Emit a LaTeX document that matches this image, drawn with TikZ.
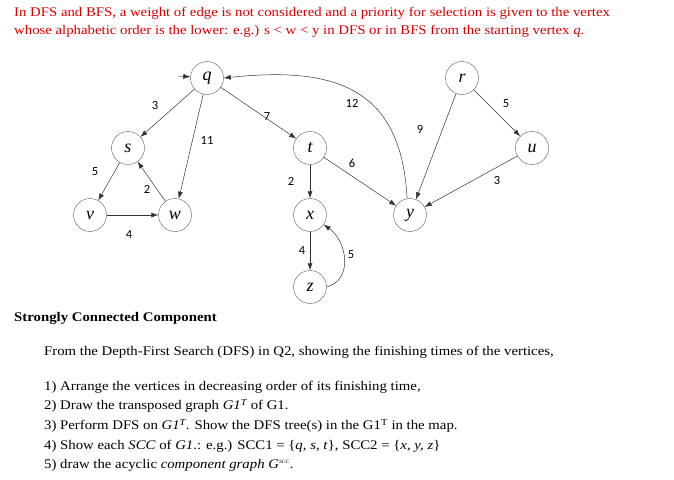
\documentclass[tikz,border=0pt]{standalone}
\usepackage{fontspec}
\setmainfont[FakeStretch=1.12]{Liberation Serif}
\newfontfamily\lblfont{Carlito}
\newfontfamily\vfont{Liberation Serif}
\usetikzlibrary{arrows.meta}
\tikzset{
 vtx/.style={circle,draw,gray!70!black,text=black,minimum size=33pt,inner sep=0pt,font=\vfont\fontsize{18}{18}\selectfont\itshape},
 edge/.style={draw,gray!40!black,-{Latex[length=7pt,width=5pt]},line width=0.5pt},
 wl/.style={font=\lblfont\fontsize{12.5}{12.5}\selectfont},
 txt/.style={anchor=west,inner sep=0pt,font=\fontsize{13.2}{15}\selectfont}
}
\begin{document}
\begin{tikzpicture}[x=1pt,y=-1pt]
\useasboundingbox (0,0) rectangle (674,479);
\node[vtx] (q) at (207,78) {q};
\node[vtx] (s) at (128,148) {s};
\node[vtx] (t) at (310,148) {t};
\node[vtx] (v) at (90,215) {v};
\node[vtx] (w) at (175,215) {w};
\node[vtx] (x) at (310,215) {x};
\node[vtx] (z) at (310,287) {z};
\node[vtx] (y) at (410,215) {y};
\node[vtx] (r) at (462,78) {r};
\node[vtx] (u) at (532,148) {u};
\coordinate (st) at (178,76);
\draw[edge] (st) -- (q);
\draw[edge] (q) -- (s);
\draw[edge] (q) -- (w);
\draw[edge] (q) -- (t);
\draw[edge] (s) -- (v);
\draw[edge] (w) -- (s);
\draw[edge] (v) -- (w);
\draw[edge] (t) -- (x);
\draw[edge] (x) -- (z);
\draw[edge] (t) -- (y);
\draw[edge] (r) -- (y);
\draw[edge] (r) -- (u);
\draw[edge] (u) -- (y);
\draw[edge] (y.100) to[out=93,in=6,looseness=1.3] (q.east);
\draw[edge] (z.east) to[out=15,in=-35,looseness=1.15] (x.-35);
\node[wl] at (352,103) {12};
\node[wl] at (155,105) {3};
\node[wl] at (207,140) {11};
\node[wl] at (267,116) {7};
\node[wl] at (420,129) {9};
\node[wl] at (506,104) {5};
\node[wl] at (95,172) {5};
\node[wl] at (147,189) {2};
\node[wl] at (129,234) {4};
\node[wl] at (291,181) {2};
\node[wl] at (352,163) {6};
\node[wl] at (497,180) {3};
\node[wl] at (302,250) {4};
\node[wl] at (351,255) {5};
\node[txt,red!85!black] (h1) at (14,13) {In DFS and BFS, a weight of edge is not considered and a priority for selection is given to the vertex};
\node[txt,red!85!black] (h2) at (14,31) {whose alphabetic order is the lower: e.g.) s < w < y in DFS or in BFS from the starting vertex \textit{q}.};
\node[txt,font=\fontsize{13.2}{15}\selectfont\bfseries] (scc) at (14,318) {Strongly Connected Component};
\node[txt] (p) at (44,352) {From the Depth-First Search (DFS) in Q2, showing the finishing times of the vertices,};
\node[txt] (l1) at (44,387) {1) Arrange the vertices in decreasing order of its finishing time,};
\node[txt] (l2) at (44,406) {2) Draw the transposed graph \textit{G1\textsuperscript{T}} of G1.};
\node[txt] (l3) at (44,426) {3) Perform DFS on \textit{G1\textsuperscript{T}}.  Show the DFS tree(s) in the G1\textsuperscript{T} in the map.};
\node[txt] (l4) at (44,446) {4) Show each \textit{SCC} of \textit{G1}.: e.g.) SCC1 = \{\textit{q, s, t}\}, SCC2 = \{\textit{x, y, z}\}};
\node[txt] (l5) at (44,465) {5) draw the acyclic \textit{component graph G\textsuperscript{\tiny SCC}}.};
\end{tikzpicture}
\end{document}
